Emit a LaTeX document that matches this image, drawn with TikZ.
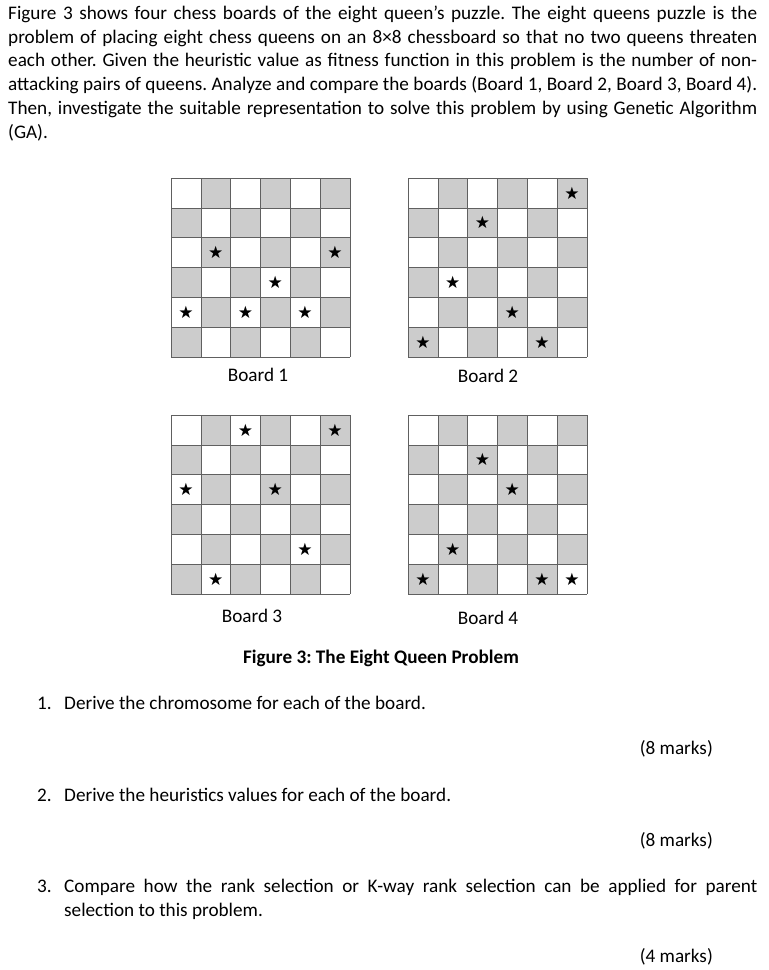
\documentclass[tikz,border=0pt]{standalone}
\usepackage{fontspec}
\setmainfont{Carlito}
\newfontfamily\symfont{DejaVu Sans}
\frenchspacing
\begin{document}
\begin{tikzpicture}[x=1pt,y=-1pt,
  txt/.style={anchor=base west,inner sep=0pt,font=\fontsize{19.2}{22}\selectfont},
  lbl/.style={anchor=base,inner sep=0pt,font=\fontsize{19.2}{22}\selectfont},
  mk/.style={anchor=base east,inner sep=0pt,font=\fontsize{19.2}{22}\selectfont},
  qstar/.style={inner sep=0pt,font=\symfont\fontsize{17}{17}\selectfont},
  gridline/.style={gray!75!black,line width=0.6pt}]
\useasboundingbox (0,0) rectangle (769,970);
\fill[white] (0,0) rectangle (769,970);
\def\cs{29.8}
% boards: origin/list of (row,col) stars
\foreach \bx/\by/\stars in {
  171/178/{2/1,2/5,3/3,4/0,4/2,4/4},
  408/178/{0/5,1/2,3/1,4/3,5/0,5/4},
  171/415/{0/2,0/5,2/0,2/3,4/4,5/1},
  408/415/{1/2,2/3,4/1,5/0,5/4,5/5}}{
  \begin{scope}[shift={(\bx,\by)}]
  \foreach \r in {0,...,5}{\foreach \c in {0,...,5}{
    \pgfmathtruncatemacro\oddq{mod(\r+\c,2)}
    \ifnum\oddq=1 \fill[gray!40] (\c*\cs,\r*\cs) rectangle ++(\cs,\cs);\fi
  }}
  \foreach \i in {0,...,6}{
    \draw[gridline] (\i*\cs,0) -- (\i*\cs,6*\cs);
    \draw[gridline] (0,\i*\cs) -- (6*\cs,\i*\cs);}
  \foreach \r/\c in \stars {\node[qstar] at (\c*\cs+0.5*\cs,\r*\cs+0.5*\cs) {★};}
  \end{scope}
}
% paragraph
\node[txt] (p1) at (8,19) {\makebox[749pt][s]{Figure 3 shows four chess boards of the eight queen’s puzzle. The eight queens puzzle is the}};
\node[txt] (p2) at (8,43) {\makebox[749pt][s]{problem of placing eight chess queens on an 8×8 chessboard so that no two queens threaten}};
\node[txt] (p3) at (8,66) {\makebox[749pt][s]{each other. Given the heuristic value as fitness function in this problem is the number of non-}};
\node[txt] (p4) at (8,90) {\makebox[749pt][s]{attacking pairs of queens. Analyze and compare the boards (Board 1, Board 2, Board 3, Board 4).}};
\node[txt] (p5) at (8,114) {\makebox[749pt][s]{Then, investigate the suitable representation to solve this problem by using Genetic Algorithm}};
\node[txt] (p6) at (8,138) {(GA).};
% labels
\node[lbl] (l1) at (258,381) {Board 1};
\node[lbl] (l2) at (488,382) {Board 2};
\node[lbl] (l3) at (252,622) {Board 3};
\node[lbl] (l4) at (488,624) {Board 4};
\node[lbl] (cap) at (381,663) {\bfseries Figure 3: The Eight Queen Problem};
% questions
\node[txt] (n1) at (37,709) {1.};
\node[txt] (q1) at (64,709) {Derive the chromosome for each of the board.};
\node[mk] (m1) at (713,754) {(8 marks)};
\node[txt] (n2) at (37,801) {2.};
\node[txt] (q2) at (64,801) {Derive the heuristics values for each of the board.};
\node[mk] (m2) at (713,846) {(8 marks)};
\node[txt] (n3) at (37,892) {3.};
\node[txt] (q3a) at (64,892) {\makebox[693pt][s]{Compare how the rank selection or K-way rank selection can be applied for parent}};
\node[txt] (q3b) at (64,916) {selection to this problem.};
\node[mk] (m3) at (713,962) {(4 marks)};
\end{tikzpicture}
\end{document}
